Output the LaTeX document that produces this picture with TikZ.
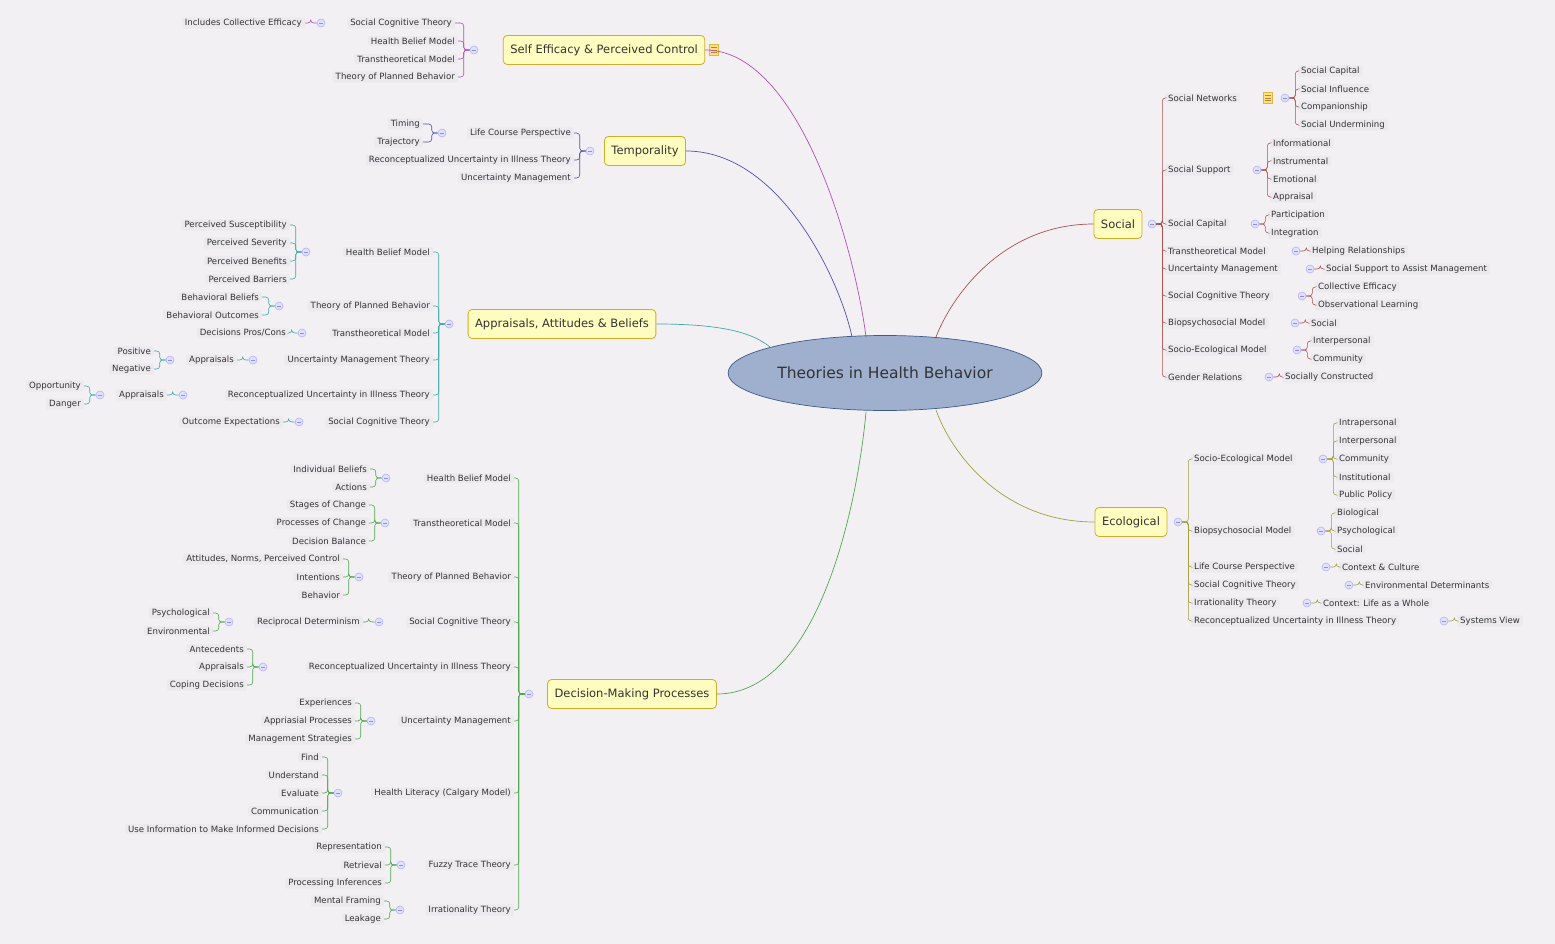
\documentclass[tikz,border=0pt]{standalone}
\usepackage{fontspec}
\usetikzlibrary{shapes.geometric}
\setmainfont{DejaVu Sans}
\definecolor{bg}{HTML}{F2F0F3}
\definecolor{leafbg}{HTML}{ECEAEE}
\definecolor{txt}{HTML}{333333}
\definecolor{cpur}{HTML}{B050B8}
\definecolor{cblu}{HTML}{5050B0}
\definecolor{ctea}{HTML}{40A8A8}
\definecolor{cgrn}{HTML}{50A850}
\definecolor{cred}{HTML}{B05050}
\definecolor{colv}{HTML}{A0A040}
\definecolor{rootfill}{HTML}{9FB0CF}
\definecolor{rootdraw}{HTML}{3D5A8A}
\tikzset{
 leaf/.style={fill=leafbg,text=txt,inner xsep=3pt,inner ysep=1.5pt,font=\fontsize{8.6}{10}\selectfont,rounded corners=2pt},
 mainbox/.style={fill=yellow!25!white,draw=yellow!60!orange!80!black,rounded corners=4pt,text=txt,inner xsep=7pt,minimum height=29pt,font=\fontsize{11.5}{13}\selectfont,line width=0.8pt},
 cbtn/.style={circle,fill=blue!12,draw=blue!30,minimum size=8pt,inner sep=0pt,line width=0.6pt,
   path picture={\draw[blue!45,line width=0.5pt] ([xshift=-2pt]path picture bounding box.center) -- ([xshift=2pt]path picture bounding box.center);}},
 note/.style={fill=yellow!60!orange!50,draw=yellow!40!brown,minimum width=9pt,minimum height=11pt,inner sep=0pt,
   path picture={\foreach \d in {-2.5,0,2.5}\draw[brown,line width=0.4pt] ([xshift=-3pt,yshift=\d pt]path picture bounding box.center) -- ([xshift=3pt,yshift=\d pt]path picture bounding box.center);}},
 mline/.style={line width=0.7pt},
}
\newcommand\Lf[4]{\node[leaf,anchor=east] (#1) at (#2,#3) {#4};}
\newcommand\Rf[4]{\node[leaf,anchor=west] (#1) at (#2,#3) {#4};}
\newcommand\Cb[3]{\node[cbtn] (#1) at (#2,#3) {};}
\newcommand\GL[3]{\foreach \k in {#3}{\draw[#1,line width=0.6pt,rounded corners=3pt] (#2.west) -- ++(-6,0) |- (\k.east);}}
\newcommand\GR[3]{\foreach \k in {#3}{\draw[#1,line width=0.6pt,rounded corners=3pt] (#2.east) -- ++(6,0) |- (\k.west);}}
\begin{document}
\begin{tikzpicture}[x=1pt,y=-1pt]
\useasboundingbox[fill=bg] (0,0) rectangle (1555,944);
% center
\node[ellipse,draw=rootdraw,fill=rootfill,minimum width=310pt,minimum height=75pt,text=txt,font=\fontsize{15.5}{18}\selectfont,line width=0.7pt] (root) at (885,373) {Theories in Health Behavior};
% main nodes
\node[mainbox] (se) at (604,50) {Self Efficacy \& Perceived Control\hspace{16pt}};
\node[note] (sen) at (714,50) {};
\node[mainbox] (tp) at (645,151) {Temporality\hspace{6pt}};
\node[mainbox] (ap) at (562,324) {Appraisals, Attitudes \& Beliefs};
\node[mainbox] (dm) at (632,694) {Decision-Making Processes};
\node[mainbox] (so) at (1118,224) {Social};
\node[mainbox] (ec) at (1131,522) {Ecological};
\draw[cpur,mline] (se.east) .. controls (800,50) and (855,250) .. (866,337);
\draw[cblu,mline] (tp.east) .. controls (780,151) and (840,280) .. (852,337);
\draw[ctea,mline] (ap.east) .. controls (730,324) and (755,335) .. (770,347);
\draw[cgrn,mline] (dm.east) .. controls (820,694) and (858,500) .. (866,412);
\draw[cred,mline] (so.west) .. controls (1000,224) and (950,300) .. (936,337);
\draw[colv,mline] (ec.west) .. controls (1000,522) and (950,450) .. (936,410);
% ---------- Self efficacy
\Cb{cse}{474}{50}
\Lf{se1}{455}{23}{Social Cognitive Theory}
\Lf{se2}{458}{41}{Health Belief Model}
\Lf{se3}{458}{59}{Transtheoretical Model}
\Lf{se4}{458}{77}{Theory of Planned Behavior}
\GL{cpur}{cse}{se1,se2,se3,se4}
\Cb{cse1}{321}{23}
\Lf{se11}{305}{23}{Includes Collective Efficacy}
\GL{cpur}{cse1}{se11}
% ---------- Temporality
\Cb{ctp}{590}{151}
\Lf{tp1}{574}{133}{Life Course Perspective}
\Lf{tp2}{574}{160}{Reconceptualized Uncertainty in Illness Theory}
\Lf{tp3}{574}{178}{Uncertainty Management}
\GL{cblu}{ctp}{tp1,tp2,tp3}
\Cb{ctp1}{442}{133}
\Lf{tp11}{423}{124}{Timing}
\Lf{tp12}{423}{142}{Trajectory}
\GL{cblu}{ctp1}{tp11,tp12}
% ---------- Appraisals
\Cb{cap}{449}{324}
\Lf{ap1}{433}{252}{Health Belief Model\hspace{14pt}}
\Lf{ap2}{433}{306}{Theory of Planned Behavior}
\Lf{ap3}{433}{333}{Transtheoretical Model}
\Lf{ap4}{433}{360}{Uncertainty Management Theory}
\Lf{ap5}{433}{395}{Reconceptualized Uncertainty in Illness Theory}
\Lf{ap6}{433}{422}{Social Cognitive Theory}
\GL{ctea}{cap}{ap1,ap2,ap3,ap4,ap5,ap6}
\Cb{cap1}{306}{252}
\Lf{ap11}{290}{225}{Perceived Susceptibility}
\Lf{ap12}{290}{243}{Perceived Severity}
\Lf{ap13}{290}{261}{Perceived Benefits}
\Lf{ap14}{290}{279}{Perceived Barriers}
\GL{ctea}{cap1}{ap11,ap12,ap13,ap14}
\Cb{cap2}{279}{306}
\Lf{ap21}{262}{297}{Behavioral Beliefs}
\Lf{ap22}{262}{315}{Behavioral Outcomes}
\GL{ctea}{cap2}{ap21,ap22}
\Cb{cap3}{302}{333}
\Lf{ap31}{289}{333}{Decisions Pros/Cons}
\GL{ctea}{cap3}{ap31}
\Cb{cap4}{253}{360}
\Lf{ap41}{237}{360}{Appraisals}
\GL{ctea}{cap4}{ap41}
\Cb{cap41}{170}{360}
\Lf{ap411}{154}{351}{Positive}
\Lf{ap412}{154}{369}{Negative}
\GL{ctea}{cap41}{ap411,ap412}
\Cb{cap5}{183}{395}
\Lf{ap51}{167}{395}{Appraisals}
\GL{ctea}{cap5}{ap51}
\Cb{cap51}{100}{395}
\Lf{ap511}{84}{386}{Opportunity}
\Lf{ap512}{84}{404}{Danger}
\GL{ctea}{cap51}{ap511,ap512}
\Cb{cap6}{299}{422}
\Lf{ap61}{283}{422}{Outcome Expectations}
\GL{ctea}{cap6}{ap61}
% ---------- Decision making
\Cb{cdm}{529}{694}
\Lf{dm1}{514}{478}{Health Belief Model\hspace{14pt}}
\Lf{dm2}{514}{523}{Transtheoretical Model}
\Lf{dm3}{514}{577}{Theory of Planned Behavior}
\Lf{dm4}{514}{622}{Social Cognitive Theory}
\Lf{dm5}{514}{667}{Reconceptualized Uncertainty in Illness Theory}
\Lf{dm6}{514}{721}{Uncertainty Management}
\Lf{dm7}{514}{793}{Health Literacy (Calgary Model)}
\Lf{dm8}{514}{865}{Fuzzy Trace Theory}
\Lf{dm9}{514}{910}{Irrationality Theory}
\GL{cgrn}{cdm}{dm1,dm2,dm3,dm4,dm5,dm6,dm7,dm8,dm9}
\Cb{cdm1}{386}{478}
\Lf{dm11}{370}{469}{Individual Beliefs}
\Lf{dm12}{370}{487}{Actions}
\GL{cgrn}{cdm1}{dm11,dm12}
\Cb{cdm2}{385}{523}
\Lf{dm21}{369}{505}{Stages of Change}
\Lf{dm22}{369}{523}{Processes of Change}
\Lf{dm23}{369}{541}{Decision Balance}
\GL{cgrn}{cdm2}{dm21,dm22,dm23}
\Cb{cdm3}{359}{577}
\Lf{dm31}{343}{559}{Attitudes, Norms, Perceived Control}
\Lf{dm32}{343}{577}{Intentions}
\Lf{dm33}{343}{595}{Behavior}
\GL{cgrn}{cdm3}{dm31,dm32,dm33}
\Cb{cdm4}{379}{622}
\Lf{dm41}{363}{622}{Reciprocal Determinism}
\GL{cgrn}{cdm4}{dm41}
\Cb{cdm41}{229}{622}
\Lf{dm411}{213}{613}{Psychological}
\Lf{dm412}{213}{631}{Environmental}
\GL{cgrn}{cdm41}{dm411,dm412}
\Cb{cdm5}{263}{667}
\Lf{dm51}{247}{649}{Antecedents}
\Lf{dm52}{247}{667}{Appraisals}
\Lf{dm53}{247}{685}{Coping Decisions}
\GL{cgrn}{cdm5}{dm51,dm52,dm53}
\Cb{cdm6}{371}{721}
\Lf{dm61}{355}{703}{Experiences}
\Lf{dm62}{355}{721}{Appriasial Processes}
\Lf{dm63}{355}{739}{Management Strategies}
\GL{cgrn}{cdm6}{dm61,dm62,dm63}
\Cb{cdm7}{338}{793}
\Lf{dm71}{322}{757}{Find}
\Lf{dm72}{322}{775}{Understand}
\Lf{dm73}{322}{793}{Evaluate}
\Lf{dm74}{322}{811}{Communication}
\Lf{dm75}{322}{829}{Use Information to Make Informed Decisions}
\GL{cgrn}{cdm7}{dm71,dm72,dm73,dm74,dm75}
\Cb{cdm8}{401}{865}
\Lf{dm81}{385}{847}{Representation}
\Lf{dm82}{385}{865}{Retrieval}
\Lf{dm83}{385}{883}{Processing Inferences}
\GL{cgrn}{cdm8}{dm81,dm82,dm83}
\Cb{cdm9}{400}{910}
\Lf{dm91}{384}{901}{Mental Framing}
\Lf{dm92}{384}{919}{Leakage}
\GL{cgrn}{cdm9}{dm91,dm92}
% ---------- Social
\Cb{cso}{1152}{224}
\Rf{so1}{1165}{98}{Social Networks\hspace{28pt}}
\node[note] (so1n) at (1268,98) {};
\Rf{so2}{1165}{170}{Social Support}
\Rf{so3}{1165}{224}{Social Capital\hspace{8pt}}
\Rf{so4}{1165}{251}{Transtheoretical Model}
\Rf{so5}{1165}{269}{Uncertainty Management}
\Rf{so6}{1165}{296}{Social Cognitive Theory}
\Rf{so7}{1165}{323}{Biopsychosocial Model}
\Rf{so8}{1165}{350}{Socio-Ecological Model}
\Rf{so9}{1165}{377}{Gender Relations}
\GR{cred}{cso}{so1,so2,so3,so4,so5,so6,so7,so8,so9}
\Cb{cso1}{1285}{98}
\Rf{so11}{1298}{71}{Social Capital}
\Rf{so12}{1298}{89}{Social Influence}
\Rf{so13}{1298}{107}{Companionship}
\Rf{so14}{1298}{125}{Social Undermining}
\GR{cred}{cso1}{so11,so12,so13,so14}
\Cb{cso2}{1257}{170}
\Rf{so21}{1270}{143}{Informational}
\Rf{so22}{1270}{161}{Instrumental}
\Rf{so23}{1270}{179}{Emotional}
\Rf{so24}{1270}{197}{Appraisal}
\GR{cred}{cso2}{so21,so22,so23,so24}
\Cb{cso3}{1255}{224}
\Rf{so31}{1268}{215}{Participation}
\Rf{so32}{1268}{233}{Integration}
\GR{cred}{cso3}{so31,so32}
\Cb{cso4}{1296}{251}
\Rf{so41}{1309}{251}{Helping Relationships}
\GR{cred}{cso4}{so41}
\Cb{cso5}{1310}{269}
\Rf{so51}{1323}{269}{Social Support to Assist Management}
\GR{cred}{cso5}{so51}
\Cb{cso6}{1302}{296}
\Rf{so61}{1315}{287}{Collective Efficacy}
\Rf{so62}{1315}{305}{Observational Learning}
\GR{cred}{cso6}{so61,so62}
\Cb{cso7}{1295}{323}
\Rf{so71}{1308}{323}{Social}
\GR{cred}{cso7}{so71}
\Cb{cso8}{1297}{350}
\Rf{so81}{1310}{341}{Interpersonal}
\Rf{so82}{1310}{359}{Community}
\GR{cred}{cso8}{so81,so82}
\Cb{cso9}{1269}{377}
\Rf{so91}{1282}{377}{Socially Constructed}
\GR{cred}{cso9}{so91}
% ---------- Ecological
\Cb{cec}{1178}{522}
\Rf{ec1}{1191}{459}{Socio-Ecological Model}
\Rf{ec2}{1191}{531}{Biopsychosocial Model}
\Rf{ec3}{1191}{567}{Life Course Perspective}
\Rf{ec4}{1191}{585}{Social Cognitive Theory\hspace{22pt}}
\Rf{ec5}{1191}{603}{Irrationality Theory}
\Rf{ec6}{1191}{621}{Reconceptualized Uncertainty in Illness Theory}
\GR{colv}{cec}{ec1,ec2,ec3,ec4,ec5,ec6}
\Cb{cec1}{1323}{459}
\Rf{ec11}{1336}{423}{Intrapersonal}
\Rf{ec12}{1336}{441}{Interpersonal}
\Rf{ec13}{1336}{459}{Community}
\Rf{ec14}{1336}{477}{Institutional}
\Rf{ec15}{1336}{495}{Public Policy}
\GR{colv}{cec1}{ec11,ec12,ec13,ec14,ec15}
\Cb{cec2}{1321}{531}
\Rf{ec21}{1334}{513}{Biological}
\Rf{ec22}{1334}{531}{Psychological}
\Rf{ec23}{1334}{549}{Social}
\GR{colv}{cec2}{ec21,ec22,ec23}
\Cb{cec3}{1326}{567}
\Rf{ec31}{1339}{567}{Context \& Culture}
\GR{colv}{cec3}{ec31}
\Cb{cec4}{1349}{585}
\Rf{ec41}{1362}{585}{Environmental Determinants}
\GR{colv}{cec4}{ec41}
\Cb{cec5}{1307}{603}
\Rf{ec51}{1320}{603}{Context: Life as a Whole}
\GR{colv}{cec5}{ec51}
\Cb{cec6}{1444}{621}
\Rf{ec61}{1457}{621}{Systems View}
\GR{colv}{cec6}{ec61}
\end{tikzpicture}
\end{document}
